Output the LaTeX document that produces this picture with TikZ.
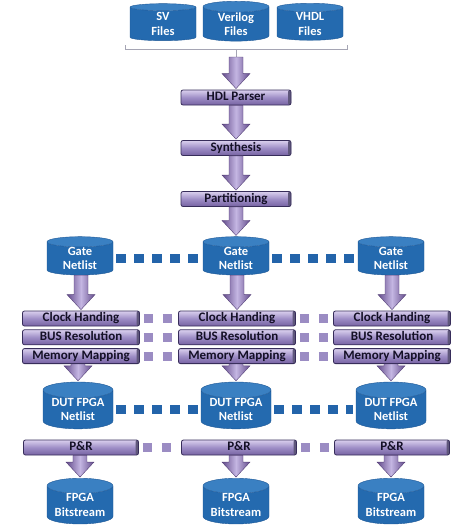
\documentclass[tikz,border=0pt]{standalone}
\usepackage{fontspec}
\setmainfont{Carlito}
\usetikzlibrary{positioning,shapes.geometric,calc}

\definecolor{cylbody}{RGB}{36,106,175}
\definecolor{cyltop}{RGB}{58,128,194}
\definecolor{cyledge}{RGB}{30,88,150}
\definecolor{bartop}{RGB}{218,208,238}
\definecolor{barmid}{RGB}{158,142,198}
\definecolor{barbot}{RGB}{118,98,162}
\definecolor{barline}{RGB}{55,45,90}
\definecolor{bartext}{RGB}{20,16,38}
\definecolor{arrdark}{RGB}{100,76,140}
\definecolor{arrlight}{RGB}{196,182,226}
\definecolor{arredge}{RGB}{85,65,120}
\definecolor{sqblue}{RGB}{35,100,170}
\definecolor{sqpurple}{RGB}{155,140,195}
\definecolor{brkgray}{RGB}{165,165,180}

\tikzset{
  datafile/.style={cylinder, shape border rotate=90, aspect=0.3, draw=cyledge, line width=0.4pt,
    cylinder uses custom fill, cylinder body fill=cylbody, cylinder end fill=cyltop,
    minimum width=66pt, minimum height=37pt, inner sep=0pt, text=white, align=center,
    font=\bfseries\fontsize{12.5}{14.5}\selectfont},
  procbar/.style={rectangle, rounded corners=2pt, draw=barline, line width=0.8pt,
    top color=bartop, bottom color=barbot, middle color=barmid,
    minimum width=117pt, minimum height=15pt, inner sep=0pt, text=bartext,
    text height=9pt, text depth=2.5pt,
    font=\bfseries\fontsize{13}{13}\selectfont,
    path picture={\fill[barline!80] (path picture bounding box.north east) rectangle ([xshift=-3pt]path picture bounding box.south east);}},
  bluelink/.style={draw=sqblue, line width=9pt, dash pattern=on 9.5pt off 8.5pt},
  purplelink/.style={draw=sqpurple, line width=9pt, dash pattern=on 9pt off 10pt, shorten <=4pt, shorten >=4pt},
  bracket/.style={draw=brkgray, line width=1pt}
}

\newcommand{\flowarrow}[2]{%
  \path[draw=arredge, line width=0.4pt, left color=arrdark, right color=arrdark, middle color=arrlight]
    let \p1=(#1), \p2=(#2) in
    (\x2-7pt,\y1) -- (\x2+7pt,\y1) -- (\x2+7pt,\y2+16pt) -- (\x2+14pt,\y2+16pt) -- (\x2,\y2+1pt)
    -- (\x2-14pt,\y2+16pt) -- (\x2-7pt,\y2+16pt) -- cycle;}

\begin{document}
\begin{tikzpicture}[x=1pt, y=-1pt]
\useasboundingbox (0,0) rectangle (474,531);

% source files
\node[datafile] (sv) at (163,24) {SV\\Files};
\node[datafile] (verilog) at (236,24) {Verilog\\Files};
\node[datafile] (vhdl) at (310,24) {VHDL\\Files};
\coordinate (brk) at (236,57);
\draw[bracket] (125,45) -- (125,49) -- (347,49) -- (347,45);
\draw[bracket] (236,49) -- (brk);

% common flow
\node[procbar, minimum width=110pt] (parser) at (236,97.5) {HDL Parser};
\node[procbar, minimum width=110pt] (synth) at (236,148) {Synthesis};
\node[procbar, minimum width=110pt] (part) at (236,199) {Partitioning};

% per FPGA
\node[datafile] (gateL) at (80,258.5) {Gate\\Netlist};
\node[datafile] (gateC) at (236,258.5) {Gate\\Netlist};
\node[datafile] (gateR) at (391,258.5) {Gate\\Netlist};

\node[procbar] (clockL) at (81,318.5) {Clock Handing};
\node[procbar] (clockC) at (237,318.5) {Clock Handing};
\node[procbar] (clockR) at (392,318.5) {Clock Handing};
\node[procbar, below=3pt of clockL] (busL) {BUS Resolution};
\node[procbar, below=3pt of clockC] (busC) {BUS Resolution};
\node[procbar, below=3pt of clockR] (busR) {BUS Resolution};
\node[procbar, below=3pt of busL] (memL) {Memory Mapping};
\node[procbar, below=3pt of busC] (memC) {Memory Mapping};
\node[procbar, below=3pt of busR] (memR) {Memory Mapping};

\node[datafile, minimum width=70pt] (dutL) at (78,409.5) {DUT FPGA\\Netlist};
\node[datafile, minimum width=70pt] (dutC) at (236,409.5) {DUT FPGA\\Netlist};
\node[datafile, minimum width=70pt] (dutR) at (391,409.5) {DUT FPGA\\Netlist};

\node[procbar, minimum width=115pt] (prL) at (81,447.5) {P\&R};
\node[procbar, minimum width=115pt] (prC) at (239,447.5) {P\&R};
\node[procbar, minimum width=115pt] (prR) at (392,447.5) {P\&R};

\node[datafile] (bitL) at (80,505) {FPGA\\Bitstream};
\node[datafile] (bitC) at (236,505) {FPGA\\Bitstream};
\node[datafile] (bitR) at (391,505) {FPGA\\Bitstream};

% arrows
\flowarrow{brk}{parser.north}
\flowarrow{parser.south}{synth.north}
\flowarrow{synth.south}{part.north}
\flowarrow{part.south}{gateC.north}
\flowarrow{gateL.south}{clockL.north}
\flowarrow{gateC.south}{clockC.north}
\flowarrow{gateR.south}{clockR.north}
\flowarrow{memL.south}{dutL.north}
\flowarrow{memC.south}{dutC.north}
\flowarrow{memR.south}{dutR.north}
\flowarrow{prL.south}{bitL.north}
\flowarrow{prC.south}{bitC.north}
\flowarrow{prR.south}{bitR.north}

% links between FPGAs
\path[bluelink, shorten <=3pt, shorten >=4pt] (gateL.east) -- (gateC.west);
\path[bluelink, shorten <=3pt, shorten >=3pt] (gateC.east) -- (gateR.west);
\path[bluelink, shorten <=3pt, shorten >=3pt] (dutL.east) -- (dutC.west);
\path[bluelink, shorten <=3pt, shorten >=3pt] (dutC.east) -- (dutR.west);
\path[purplelink] (clockL) -- (clockC);
\path[purplelink] (clockC) -- (clockR);
\path[purplelink] (busL) -- (busC);
\path[purplelink] (busC) -- (busR);
\path[purplelink] (memL) -- (memC);
\path[purplelink] (memC) -- (memR);
\path[purplelink] (prL) -- (prC);
\path[purplelink] (prC) -- (prR);
\end{tikzpicture}
\end{document}
